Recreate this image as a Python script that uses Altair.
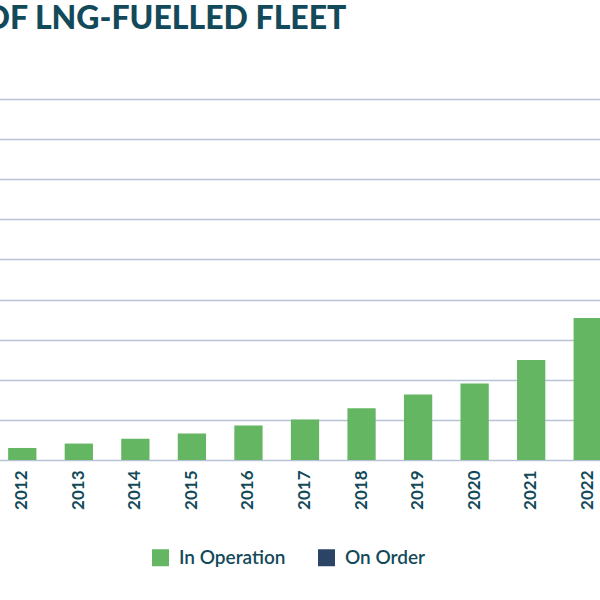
import altair as alt
import pandas as pd

# Fleet size by year (number of ships)
years = ["2012", "2013", "2014", "2015", "2016", "2017",
         "2018", "2019", "2020", "2021", "2022"]
in_operation = [30, 41, 53, 66, 86, 101, 129, 163, 191, 249, 354]
statuses = ["In Operation", "On Order"]
status_colors = ["#64b662", "#2b4465"]
grid_values = [0, 100, 200, 300, 400, 500, 600, 700, 800, 900]
heading = ["OF LNG-FUELLED FLEET"]

df = pd.DataFrame({
    "year": years,
    "ships": in_operation,
    "status": ["In Operation"] * len(years),
})

TEXT = "#134a5a"
FONT = "Lato"

bars = (
    alt.Chart(df)
    .mark_bar()
    .encode(
        x=alt.X(
            "year:N",
            sort=years,
            scale=alt.Scale(range=[-6, 616], paddingInner=0.5, paddingOuter=0.25),
            axis=alt.Axis(
                title=None, labelAngle=270, labelFont=FONT, labelFontSize=17,
                labelFontWeight="bold", labelColor=TEXT, labelPadding=10,
                ticks=False, domain=False, grid=False,
            ),
        ),
        y=alt.Y(
            "ships:Q",
            stack="zero",
            scale=alt.Scale(domain=[0, 900], nice=False),
            axis=alt.Axis(
                title=None, labels=False, ticks=False, domain=False,
                values=grid_values, grid=True, gridColor="#b7c2d4",
                gridWidth=1.6,
            ),
        ),
        color=alt.Color(
            "status:N",
            scale=alt.Scale(domain=statuses, range=status_colors),
            legend=alt.Legend(
                title=None, orient="none", direction="horizontal",
                legendX=151, legendY=449, padding=0,
                symbolType="square", symbolSize=289, symbolStrokeWidth=0,
                symbolOpacity=1, labelFont=FONT, labelFontSize=19,
                labelFontWeight=600, labelColor=TEXT, labelOffset=9,
                columnPadding=31,
            ),
        ),
    )
)

# Heading drawn above the plot area, running in from the left edge
title = (
    alt.Chart(pd.DataFrame({"t": heading}))
    .mark_text(
        align="left", baseline="alphabetic", font=FONT, fontSize=32,
        fontWeight=900, color=TEXT,
    )
    .encode(x=alt.value(-16), y=alt.value(-70), text="t:N")
)

chart = (
    alt.layer(bars, title)
    .properties(
        width=600,
        height=361,
        autosize=alt.AutoSizeParams(type="none"),
        padding={"left": 0, "top": 99, "right": 0, "bottom": 140},
    )
    .configure_view(stroke=None)
)

chart.save("out.html", embed_options={"renderer": "svg", "actions": False})
